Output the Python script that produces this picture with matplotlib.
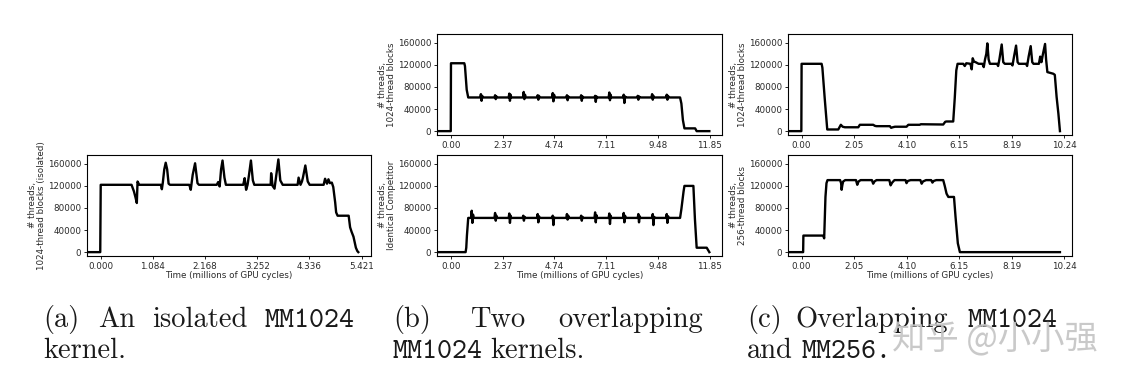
import matplotlib
matplotlib.use("Agg")
import matplotlib.pyplot as plt

# ---------------- data ----------------
# (a) isolated MM1024
a_t = [-0.28, -0.01, 0.00, 0.64, 0.69, 0.72, 0.75, 0.765, 0.80,
       1.25, 1.27, 1.29, 1.32, 1.35, 1.38, 1.41, 1.44,
       1.84, 1.87, 1.91, 1.96, 2.01, 2.04,
       2.41, 2.44, 2.47, 2.50, 2.53, 2.57, 2.60,
       2.96, 2.99, 3.02, 3.05, 3.08, 3.12, 3.16, 3.19,
       3.53, 3.54, 3.57, 3.61, 3.64, 3.69, 3.73, 3.78,
       4.09, 4.11, 4.15, 4.18, 4.20, 4.25, 4.30, 4.34,
       4.63, 4.66, 4.70, 4.73, 4.76, 4.80, 4.83, 4.87, 4.89, 4.92,
       5.15, 5.18, 5.21, 5.25, 5.30, 5.33, 5.35]
a_y = [0, 0, 122000, 122000, 110000, 100000, 89000, 128000, 122000,
       122000, 114000, 126000, 150000, 162000, 150000, 124000, 122000,
       122000, 113000, 140000, 161000, 125000, 122000,
       122000, 127000, 119000, 150000, 166000, 135000, 122000,
       122000, 134000, 113000, 122000, 140000, 166000, 130000, 122000,
       122000, 143000, 120000, 115000, 135000, 168000, 130000, 122000,
       122000, 135000, 122000, 128000, 135000, 157000, 128000, 122000,
       122000, 133000, 124000, 132000, 125000, 126000, 118000, 90000, 72000, 66000,
       66000, 45000, 37000, 28000, 8000, 2000, 0]

# (b) top: MM1024 kernel 1
b1_t = [-0.63, -0.01, 0.00, 0.61, 0.64, 0.72, 0.79,
        1.34, 1.37, 1.40, 1.43, 1.46,
        1.99, 2.02, 2.05, 2.08, 2.11,
        2.64, 2.67, 2.70, 2.73, 2.76,
        3.30, 3.33, 3.36, 3.39, 3.42,
        3.94, 3.97, 4.00, 4.03, 4.06,
        4.63, 4.66, 4.69, 4.72, 4.75,
        5.28, 5.31, 5.34, 5.37, 5.40,
        5.93, 5.96, 5.99, 6.02, 6.05,
        6.57, 6.60, 6.63, 6.66, 6.69,
        7.22, 7.25, 7.28, 7.31, 7.34,
        7.88, 7.91, 7.94, 7.97, 8.00,
        8.52, 8.55, 8.58, 8.61, 8.64,
        9.18, 9.21, 9.24, 9.27, 9.30,
        9.85, 9.88, 9.91, 9.94, 9.97,
        10.49, 10.55, 10.62, 10.69, 11.18, 11.25, 11.83]
b1_y = [0, 0, 123000, 123000, 118000, 75000, 61000,
        61000, 67000, 55000, 64000, 61000,
        61000, 65000, 58000, 63000, 61000,
        61000, 68000, 55000, 66000, 61000,
        61000, 71000, 58000, 66000, 61000,
        61000, 65000, 57000, 64000, 61000,
        61000, 69000, 54000, 66000, 61000,
        61000, 65000, 56000, 63000, 61000,
        61000, 65000, 55000, 63000, 61000,
        61000, 64000, 53000, 63000, 61000,
        61000, 70000, 56000, 66000, 61000,
        61000, 66000, 51000, 63000, 61000,
        61000, 64000, 57000, 63000, 61000,
        61000, 67000, 57000, 64000, 61000,
        61000, 66000, 57000, 64000, 61000,
        61000, 50000, 20000, 5000, 5000, 0, 0]

# (b) bottom: identical competitor
b2_t = [-0.63, 0.67, 0.70, 0.73, 0.79,
        0.92, 0.95, 0.98, 1.01, 1.04,
        1.99, 2.02, 2.05, 2.08, 2.11,
        2.64, 2.67, 2.70, 2.73, 2.76,
        3.28, 3.31, 3.34, 3.37, 3.40,
        3.94, 3.97, 4.00, 4.03, 4.06,
        4.63, 4.66, 4.69, 4.72, 4.75,
        5.28, 5.31, 5.34, 5.37, 5.40,
        5.93, 5.96, 5.99, 6.02, 6.05,
        6.57, 6.60, 6.63, 6.66, 6.69,
        7.22, 7.25, 7.28, 7.31, 7.34,
        7.88, 7.91, 7.94, 7.97, 8.00,
        8.55, 8.58, 8.61, 8.64, 8.67,
        9.21, 9.24, 9.27, 9.30, 9.33,
        9.85, 9.88, 9.91, 9.94, 9.97,
        10.49, 10.55, 10.65, 10.69, 11.10, 11.17, 11.25, 11.71, 11.80, 11.83]
b2_y = [0, 0, 8000, 30000, 62000,
        62000, 75000, 53000, 68000, 62000,
        62000, 71000, 57000, 66000, 62000,
        62000, 70000, 53000, 66000, 62000,
        62000, 66000, 57000, 64000, 62000,
        62000, 69000, 54000, 65000, 62000,
        62000, 66000, 49000, 63000, 62000,
        62000, 69000, 59000, 66000, 62000,
        62000, 66000, 57000, 64000, 62000,
        62000, 72000, 54000, 67000, 62000,
        62000, 70000, 51000, 66000, 62000,
        62000, 71000, 54000, 66000, 62000,
        62000, 69000, 54000, 65000, 62000,
        62000, 69000, 49000, 64000, 62000,
        62000, 69000, 53000, 65000, 62000,
        62000, 78000, 110000, 120000, 120000, 60000, 8000, 8000, 2000, 0]

# (c) top: MM1024 overlapping MM256
c1_t = [-0.52, -0.01, 0.00, 0.78, 0.81, 0.90, 1.00, 1.43, 1.50, 1.53, 1.60, 1.69,
        2.21, 2.27, 2.79, 2.86, 2.92, 3.44, 3.49, 3.55, 3.64, 4.09, 4.16, 4.60, 4.65,
        5.52, 5.60, 5.65, 5.91, 5.97, 6.03, 6.08,
        6.30, 6.36, 6.42, 6.58, 6.63, 6.67, 6.72, 6.78, 6.90,
        7.05, 7.10, 7.15, 7.20, 7.24, 7.29, 7.34,
        7.62, 7.66, 7.71, 7.80, 7.86, 7.92,
        8.18, 8.22, 8.28, 8.36, 8.42, 8.47,
        8.75, 8.79, 8.85, 8.93, 8.99, 9.04,
        9.25, 9.30, 9.35, 9.40, 9.49, 9.53, 9.58,
        9.81, 9.87, 9.94, 10.01, 10.07]
c1_y = [0, 0, 122000, 122000, 115000, 60000, 3000, 3000, 9000, 11500, 8000, 7000,
        7000, 11500, 11500, 9500, 9000, 9000, 6000, 7000, 8000, 8000, 11500, 11500, 12500,
        12000, 17000, 17500, 17500, 60000, 110000, 122000,
        122000, 118000, 123000, 122000, 112000, 132000, 126000, 125000, 122000,
        122000, 116000, 130000, 140000, 159000, 130000, 122000,
        122000, 118000, 130000, 157000, 125000, 122000,
        122000, 119000, 135000, 155000, 125000, 122000,
        122000, 118000, 135000, 154000, 125000, 122000,
        122000, 135000, 125000, 138000, 158000, 130000, 107000,
        104000, 102000, 62000, 31500, 0]

# (c) bottom: MM256
c2_t = [-0.52, 0.06, 0.07, 0.84, 0.88, 0.93, 0.97, 1.01,
        1.50, 1.54, 1.56, 1.59, 1.62, 1.70,
        2.12, 2.17, 2.22, 2.30,
        2.74, 2.79, 2.84, 2.92,
        3.42, 3.47, 3.53, 3.62,
        4.05, 4.09, 4.14, 4.25,
        4.63, 4.68, 4.73, 4.85,
        5.05, 5.10, 5.15, 5.25,
        5.52, 5.58, 5.65, 5.72, 5.94, 6.00, 6.09, 6.17, 10.07]
c2_y = [0, 0, 30000, 30000, 25000, 100000, 125000, 130500,
        130500, 125000, 113000, 122000, 128000, 130500,
        130500, 122000, 128000, 130500,
        130500, 124000, 128000, 130500,
        130500, 121000, 126000, 130500,
        130500, 125000, 129000, 130500,
        130500, 124000, 128000, 130500,
        130500, 126000, 129000, 130500,
        130500, 120000, 106000, 100000, 100000, 64000, 16000, 0, 0]

a_ticks = [0.000, 1.084, 2.168, 3.252, 4.336, 5.421]
a_ticklabels = ["0.000", "1.084", "2.168", "3.252", "4.336", "5.421"]
b_ticks = [0.00, 2.37, 4.74, 7.11, 9.48, 11.85]
b_ticklabels = ["0.00", "2.37", "4.74", "7.11", "9.48", "11.85"]
c_ticks = [0.00, 2.05, 4.10, 6.15, 8.19, 10.24]
c_ticklabels = ["0.00", "2.05", "4.10", "6.15", "8.19", "10.24"]
y_ticks = [0, 40000, 80000, 120000, 160000]

ylabel_a = "# threads,\n1024-thread blocks (isolated)"
ylabel_b1 = "# threads,\n1024-thread blocks"
ylabel_b2 = "# threads,\nIdentical Competitor"
ylabel_c1 = "# threads,\n1024-thread blocks"
ylabel_c2 = "# threads,\n256-thread blocks"
xlabel = "Time (millions of GPU cycles)"

# ---------------- figure ----------------
W, H = 1133, 386
fig = plt.figure(figsize=(W / 100, H / 100), dpi=100)

FS = 6.3
TXT = "#2a2a2a"


def px_axes(l, t, r, b):
    return fig.add_axes([l / W, 1 - b / H, (r - l) / W, (b - t) / H])


def style(ax, t, y, ticks, labels, xlim, ylabel, with_xlabel):
    ax.plot(t, y, color="black", lw=1.7, solid_joinstyle="round")
    ax.set_xlim(*xlim)
    ax.set_ylim(-7000, 176000)
    ax.set_xticks(ticks)
    ax.set_xticklabels(labels)
    ax.set_yticks(y_ticks)
    ax.set_yticklabels([str(v) for v in y_ticks])
    ax.tick_params(labelsize=FS, length=2.5, width=0.6, pad=1.5, colors="black",
                   labelcolor=TXT)
    for s in ax.spines.values():
        s.set_linewidth(0.8)
    ax.set_ylabel(ylabel, fontsize=FS, color=TXT, labelpad=1.5, linespacing=1.0)
    if with_xlabel:
        ax.set_xlabel(xlabel, fontsize=FS, color=TXT, labelpad=0.5)


ax_a = px_axes(87, 155, 371, 256)
style(ax_a, a_t, a_y, a_ticks, a_ticklabels, (-0.285, 5.614), ylabel_a, True)

ax_b1 = px_axes(437, 34, 722, 135)
style(ax_b1, b1_t, b1_y, b_ticks, b_ticklabels, (-0.64, 12.41), ylabel_b1, False)
ax_b2 = px_axes(437, 155, 722, 256)
style(ax_b2, b2_t, b2_y, b_ticks, b_ticklabels, (-0.64, 12.41), ylabel_b2, True)

ax_c1 = px_axes(788, 34, 1072, 135)
style(ax_c1, c1_t, c1_y, c_ticks, c_ticklabels, (-0.53, 10.54), ylabel_c1, False)
ax_c2 = px_axes(788, 155, 1072, 256)
style(ax_c2, c2_t, c2_y, c_ticks, c_ticklabels, (-0.53, 10.54), ylabel_c2, True)

# ---------------- captions ----------------
CAP = 20.5
caption_words = [
    ("(a)", "cmr10", 43, 327), ("An", "cmr10", 98, 327),
    ("isolated", "cmr10", 152, 327), ("MM1024", "cmtt10", 265, 327),
    ("kernel.", "cmr10", 43, 358),
    ("(b)", "cmr10", 393, 327), ("Two", "cmr10", 470, 327),
    ("overlapping", "cmr10", 558, 327),
    ("MM1024", "cmtt10", 393, 358), ("kernels.", "cmr10", 490, 358),
    ("(c)", "cmr10", 747, 327), ("Overlapping", "cmr10", 795, 327),
    ("MM1024", "cmtt10", 968, 327),
    ("and", "cmr10", 747, 358), ("MM256.", "cmtt10", 802, 358),
]
for txt, fam, x, y in caption_words:
    fig.text(x / W, 1 - y / H, txt, family=fam, fontsize=CAP, color="#1a1a1a",
             ha="left", va="baseline")

# watermark (overlaps the caption as in the reference)
fig.text(892 / W, 1 - 340 / H, "知乎 @小小强", family=["Noto Sans CJK SC", "DejaVu Sans"],
         fontsize=24, color="#c4c4c4", alpha=0.9, ha="left", va="center")

fig.savefig("out.png", dpi=100)
